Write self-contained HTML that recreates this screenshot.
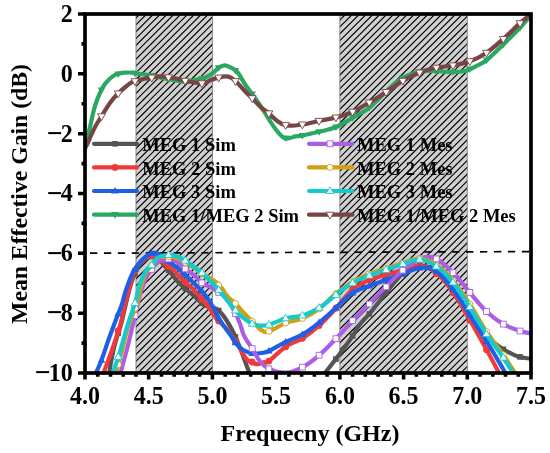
<!DOCTYPE html>
<html><head><meta charset="utf-8"><style>
html,body{margin:0;padding:0;background:#fff;}
body{width:550px;height:453px;overflow:hidden;}
svg{display:block;}
</style></head><body>
<svg width="550" height="453" viewBox="0 0 550 453">
<defs>
<clipPath id="pc"><rect x="85" y="14" width="446" height="359"/></clipPath>
</defs>
<rect width="550" height="453" fill="#fff"/>
<clipPath id="hc1"><rect x="135.97" y="14" width="76.46" height="359"/></clipPath><rect x="135.97" y="14" width="76.46" height="359" fill="#d0d0d0"/><path clip-path="url(#hc1)" d="M137.01,10.00L-232.99,380.00M143.87,10.00L-226.13,380.00M150.74,10.00L-219.26,380.00M157.61,10.00L-212.39,380.00M164.48,10.00L-205.52,380.00M171.34,10.00L-198.66,380.00M178.21,10.00L-191.79,380.00M185.08,10.00L-184.92,380.00M191.94,10.00L-178.06,380.00M198.81,10.00L-171.19,380.00M205.68,10.00L-164.32,380.00M212.54,10.00L-157.46,380.00M219.41,10.00L-150.59,380.00M226.28,10.00L-143.72,380.00M233.15,10.00L-136.85,380.00M240.01,10.00L-129.99,380.00M246.88,10.00L-123.12,380.00M253.75,10.00L-116.25,380.00M260.61,10.00L-109.39,380.00M267.48,10.00L-102.52,380.00M274.35,10.00L-95.65,380.00M281.21,10.00L-88.79,380.00M288.08,10.00L-81.92,380.00M294.95,10.00L-75.05,380.00M301.81,10.00L-68.19,380.00M308.68,10.00L-61.32,380.00M315.55,10.00L-54.45,380.00M322.42,10.00L-47.58,380.00M329.28,10.00L-40.72,380.00M336.15,10.00L-33.85,380.00M343.02,10.00L-26.98,380.00M349.88,10.00L-20.12,380.00M356.75,10.00L-13.25,380.00M363.62,10.00L-6.38,380.00M370.49,10.00L0.49,380.00M377.35,10.00L7.35,380.00M384.22,10.00L14.22,380.00M391.09,10.00L21.09,380.00M397.95,10.00L27.95,380.00M404.82,10.00L34.82,380.00M411.69,10.00L41.69,380.00M418.55,10.00L48.55,380.00M425.42,10.00L55.42,380.00M432.29,10.00L62.29,380.00M439.16,10.00L69.16,380.00M446.02,10.00L76.02,380.00M452.89,10.00L82.89,380.00M459.76,10.00L89.76,380.00M466.62,10.00L96.62,380.00M473.49,10.00L103.49,380.00M480.36,10.00L110.36,380.00M487.22,10.00L117.22,380.00M494.09,10.00L124.09,380.00M500.96,10.00L130.96,380.00M507.82,10.00L137.82,380.00M514.69,10.00L144.69,380.00M521.56,10.00L151.56,380.00M528.43,10.00L158.43,380.00M535.29,10.00L165.29,380.00M542.16,10.00L172.16,380.00M549.03,10.00L179.03,380.00M555.89,10.00L185.89,380.00M562.76,10.00L192.76,380.00M569.63,10.00L199.63,380.00M576.50,10.00L206.50,380.00" stroke="#000" stroke-width="1.15" fill="none"/><rect x="135.97" y="14" width="76.46" height="359" fill="none" stroke="#7a7a7a" stroke-width="0.8"/>
<clipPath id="hc2"><rect x="339.86" y="14" width="127.43" height="359"/></clipPath><rect x="339.86" y="14" width="127.43" height="359" fill="#d0d0d0"/><path clip-path="url(#hc2)" d="M343.02,10.00L-26.98,380.00M349.88,10.00L-20.12,380.00M356.75,10.00L-13.25,380.00M363.62,10.00L-6.38,380.00M370.49,10.00L0.49,380.00M377.35,10.00L7.35,380.00M384.22,10.00L14.22,380.00M391.09,10.00L21.09,380.00M397.95,10.00L27.95,380.00M404.82,10.00L34.82,380.00M411.69,10.00L41.69,380.00M418.55,10.00L48.55,380.00M425.42,10.00L55.42,380.00M432.29,10.00L62.29,380.00M439.16,10.00L69.16,380.00M446.02,10.00L76.02,380.00M452.89,10.00L82.89,380.00M459.76,10.00L89.76,380.00M466.62,10.00L96.62,380.00M473.49,10.00L103.49,380.00M480.36,10.00L110.36,380.00M487.22,10.00L117.22,380.00M494.09,10.00L124.09,380.00M500.96,10.00L130.96,380.00M507.82,10.00L137.82,380.00M514.69,10.00L144.69,380.00M521.56,10.00L151.56,380.00M528.43,10.00L158.43,380.00M535.29,10.00L165.29,380.00M542.16,10.00L172.16,380.00M549.03,10.00L179.03,380.00M555.89,10.00L185.89,380.00M562.76,10.00L192.76,380.00M569.63,10.00L199.63,380.00M576.50,10.00L206.50,380.00M583.36,10.00L213.36,380.00M590.23,10.00L220.23,380.00M597.10,10.00L227.10,380.00M603.96,10.00L233.96,380.00M610.83,10.00L240.83,380.00M617.70,10.00L247.70,380.00M624.56,10.00L254.56,380.00M631.43,10.00L261.43,380.00M638.30,10.00L268.30,380.00M645.16,10.00L275.16,380.00M652.03,10.00L282.03,380.00M658.90,10.00L288.90,380.00M665.77,10.00L295.77,380.00M672.63,10.00L302.63,380.00M679.50,10.00L309.50,380.00M686.37,10.00L316.37,380.00M693.23,10.00L323.23,380.00M700.10,10.00L330.10,380.00M706.97,10.00L336.97,380.00M713.83,10.00L343.83,380.00M720.70,10.00L350.70,380.00M727.57,10.00L357.57,380.00M734.44,10.00L364.44,380.00M741.30,10.00L371.30,380.00M748.17,10.00L378.17,380.00M755.04,10.00L385.04,380.00M761.90,10.00L391.90,380.00M768.77,10.00L398.77,380.00M775.64,10.00L405.64,380.00M782.50,10.00L412.50,380.00M789.37,10.00L419.37,380.00M796.24,10.00L426.24,380.00M803.11,10.00L433.11,380.00M809.97,10.00L439.97,380.00M816.84,10.00L446.84,380.00M823.71,10.00L453.71,380.00M830.57,10.00L460.57,380.00" stroke="#000" stroke-width="1.15" fill="none"/><rect x="339.86" y="14" width="127.43" height="359" fill="none" stroke="#7a7a7a" stroke-width="0.8"/>
<line x1="90" y1="253.2" x2="529" y2="251.6" stroke="#000" stroke-width="1.7" stroke-dasharray="7.3 6.63"/>
<g clip-path="url(#pc)">
<path d="M109.3,373.0 C109.6,371.2 110.3,365.8 111.0,362.0 C111.7,358.2 112.5,354.3 113.5,350.0 C114.5,345.7 116.0,340.5 117.3,336.0 C118.6,331.5 120.1,328.0 121.5,322.8 C122.9,317.6 124.0,311.5 125.6,305.0 C127.2,298.5 129.3,289.7 131.0,284.0 C132.7,278.3 134.2,274.7 136.0,271.0 C137.8,267.3 139.8,264.3 142.0,262.0 C144.2,259.7 146.8,258.0 149.0,257.0 C151.2,256.0 153.2,255.8 155.0,256.0 C156.8,256.2 158.2,257.2 159.5,258.5 C160.8,259.8 160.8,261.2 162.6,263.5 C164.4,265.8 167.6,269.2 170.4,272.5 C173.2,275.8 176.4,280.1 179.2,283.0 C181.9,285.9 184.3,287.8 186.9,290.0 C189.5,292.2 192.4,294.6 194.6,296.5 C196.8,298.4 198.3,300.0 200.0,301.5 C201.7,303.0 203.1,304.6 205.0,305.5 C206.9,306.4 209.0,306.1 211.3,307.0 C213.6,307.9 216.3,308.4 218.8,310.6 C221.3,312.8 223.8,316.2 226.3,320.0 C228.8,323.8 231.6,328.8 233.8,333.2 C236.0,337.6 237.5,341.6 239.4,346.3 C241.3,351.0 243.3,356.9 245.0,361.3 C246.7,365.8 248.8,371.1 249.5,373.0" fill="none" stroke="#545454" stroke-width="4.2" stroke-linejoin="round" stroke-linecap="round"/>
<rect x="115.4" y="330.2" width="5.6" height="5.6" fill="#545454"/>
<rect x="132.2" y="270.9" width="5.6" height="5.6" fill="#545454"/>
<rect x="148.9" y="253.7" width="5.6" height="5.6" fill="#545454"/>
<rect x="165.7" y="267.5" width="5.6" height="5.6" fill="#545454"/>
<rect x="182.4" y="285.7" width="5.6" height="5.6" fill="#545454"/>
<rect x="199.1" y="300.3" width="5.6" height="5.6" fill="#545454"/>
<rect x="215.9" y="307.7" width="5.6" height="5.6" fill="#545454"/>
<rect x="232.6" y="334.2" width="5.6" height="5.6" fill="#545454"/>

<path d="M325.0,373.0 C327.0,370.4 332.5,363.6 337.0,357.6 C341.5,351.7 348.0,342.8 351.8,337.3 C355.6,331.8 356.8,328.4 359.8,324.4 C362.8,320.4 366.7,317.0 369.7,313.5 C372.7,310.0 374.6,307.4 377.6,303.6 C380.6,299.8 384.3,294.9 387.6,290.8 C390.9,286.7 394.5,282.0 397.5,278.8 C400.5,275.6 401.6,273.7 405.4,271.5 C409.1,269.3 414.9,265.6 420.0,265.5 C425.1,265.4 430.7,266.9 436.0,271.0 C441.3,275.1 446.7,282.8 452.0,290.0 C457.3,297.2 463.3,307.2 468.0,314.0 C472.7,320.8 476.1,326.5 480.0,331.0 C483.9,335.5 487.8,337.8 491.7,340.9 C495.6,343.9 498.9,346.7 503.3,349.3 C507.7,351.9 513.4,355.0 518.0,356.6 C522.6,358.2 528.8,358.4 531.0,358.7" fill="none" stroke="#545454" stroke-width="4.2" stroke-linejoin="round" stroke-linecap="round"/>
<rect x="333.1" y="356.3" width="5.6" height="5.6" fill="#545454"/>
<rect x="349.8" y="333.2" width="5.6" height="5.6" fill="#545454"/>
<rect x="366.5" y="311.1" width="5.6" height="5.6" fill="#545454"/>
<rect x="383.3" y="289.9" width="5.6" height="5.6" fill="#545454"/>
<rect x="400.0" y="271.1" width="5.6" height="5.6" fill="#545454"/>
<rect x="416.8" y="262.9" width="5.6" height="5.6" fill="#545454"/>
<rect x="433.5" y="268.6" width="5.6" height="5.6" fill="#545454"/>
<rect x="450.2" y="288.8" width="5.6" height="5.6" fill="#545454"/>
<rect x="467.0" y="313.7" width="5.6" height="5.6" fill="#545454"/>
<rect x="483.7" y="333.7" width="5.6" height="5.6" fill="#545454"/>
<rect x="500.5" y="346.5" width="5.6" height="5.6" fill="#545454"/>
<rect x="517.2" y="354.1" width="5.6" height="5.6" fill="#545454"/>

<path d="M103.5,373.0 C104.9,369.2 109.1,358.4 112.0,350.0 C114.9,341.6 118.7,330.3 120.8,322.8 C122.9,315.3 123.4,310.5 124.8,305.0 C126.2,299.5 127.6,295.2 129.0,290.0 C130.4,284.8 131.7,278.2 133.2,274.0 C134.7,269.8 136.0,267.6 138.0,265.0 C140.0,262.4 142.7,260.1 145.0,258.5 C147.3,256.9 149.8,255.8 152.0,255.5 C154.2,255.2 155.8,255.2 158.0,256.5 C160.2,257.8 162.3,261.2 164.9,263.5 C167.5,265.8 170.6,267.7 173.7,270.5 C176.8,273.3 180.5,277.5 183.6,280.5 C186.7,283.5 189.7,285.8 192.4,288.5 C195.2,291.2 197.2,293.7 200.1,297.0 C203.0,300.3 206.9,304.9 209.6,308.5 C212.3,312.1 213.3,315.0 216.2,318.4 C219.1,321.8 223.2,324.7 226.8,329.0 C230.4,333.3 234.2,339.3 237.5,344.4 C240.8,349.5 243.8,356.1 246.9,359.4 C250.0,362.7 253.5,363.6 256.3,364.1 C259.1,364.6 261.8,362.6 263.8,362.2 C265.8,361.8 264.8,364.0 268.5,361.4 C272.2,358.8 280.5,350.2 286.3,346.3 C292.1,342.4 297.6,341.5 303.2,337.9 C308.8,334.3 314.5,329.8 320.1,324.7 C325.7,319.6 331.6,312.9 337.0,307.0 C342.4,301.1 347.4,293.5 352.8,289.0 C358.2,284.5 364.1,282.2 369.7,279.8 C375.3,277.4 380.6,276.5 386.2,274.8 C391.8,273.1 398.2,271.4 403.5,269.9 C408.8,268.4 412.9,265.7 417.9,265.9 C422.9,266.1 428.4,267.4 433.7,271.0 C439.0,274.6 444.2,280.2 449.6,287.3 C455.0,294.4 459.9,303.2 466.0,313.5 C472.1,323.8 480.8,339.4 486.3,349.3 C491.8,359.2 496.9,369.1 499.0,373.0" fill="none" stroke="#f03a3a" stroke-width="4.2" stroke-linejoin="round" stroke-linecap="round"/>
<circle cx="118.2" cy="330.7" r="3.4" fill="#f03a3a"/>
<circle cx="135.0" cy="270.7" r="3.4" fill="#f03a3a"/>
<circle cx="151.7" cy="255.6" r="3.4" fill="#f03a3a"/>
<circle cx="168.5" cy="266.3" r="3.4" fill="#f03a3a"/>
<circle cx="185.2" cy="282.0" r="3.4" fill="#f03a3a"/>
<circle cx="201.9" cy="299.2" r="3.4" fill="#f03a3a"/>
<circle cx="218.7" cy="320.9" r="3.4" fill="#f03a3a"/>
<circle cx="235.4" cy="341.4" r="3.4" fill="#f03a3a"/>
<circle cx="252.2" cy="362.0" r="3.4" fill="#f03a3a"/>
<circle cx="268.9" cy="361.1" r="3.4" fill="#f03a3a"/>
<circle cx="285.6" cy="346.9" r="3.4" fill="#f03a3a"/>
<circle cx="302.4" cy="338.3" r="3.4" fill="#f03a3a"/>
<circle cx="319.1" cy="325.5" r="3.4" fill="#f03a3a"/>
<circle cx="335.9" cy="308.2" r="3.4" fill="#f03a3a"/>
<circle cx="352.6" cy="289.2" r="3.4" fill="#f03a3a"/>
<circle cx="369.3" cy="280.0" r="3.4" fill="#f03a3a"/>
<circle cx="386.1" cy="274.8" r="3.4" fill="#f03a3a"/>
<circle cx="402.8" cy="270.1" r="3.4" fill="#f03a3a"/>
<circle cx="419.6" cy="266.4" r="3.4" fill="#f03a3a"/>
<circle cx="436.3" cy="273.7" r="3.4" fill="#f03a3a"/>
<circle cx="453.0" cy="292.8" r="3.4" fill="#f03a3a"/>
<circle cx="469.8" cy="320.2" r="3.4" fill="#f03a3a"/>
<circle cx="486.5" cy="349.7" r="3.4" fill="#f03a3a"/>

<path d="M96.0,373.0 C96.9,370.8 99.3,365.9 101.6,359.9 C103.8,353.9 106.8,344.5 109.5,337.0 C112.2,329.5 115.7,320.3 117.7,315.0 C119.7,309.7 120.4,308.9 121.7,305.0 C123.0,301.1 123.8,296.4 125.5,291.4 C127.2,286.4 129.7,279.4 131.6,275.1 C133.5,270.9 134.9,268.7 137.0,265.9 C139.1,263.1 141.6,260.2 144.0,258.1 C146.4,256.0 149.4,254.3 151.6,253.5 C153.8,252.7 155.1,252.8 157.0,253.3 C158.9,253.8 161.3,255.3 163.0,256.5 C164.7,257.7 164.8,258.8 167.1,260.6 C169.4,262.4 173.7,264.9 177.0,267.5 C180.3,270.1 183.8,273.6 186.9,276.5 C190.0,279.4 193.5,282.8 195.7,285.0 C197.9,287.2 198.4,287.4 200.3,289.5 C202.2,291.6 204.7,294.4 206.9,297.5 C209.1,300.6 211.7,304.6 213.5,307.8 C215.3,311.1 216.2,313.9 218.0,317.0 C219.8,320.1 222.0,323.3 224.1,326.4 C226.2,329.5 228.8,332.8 230.8,335.6 C232.8,338.5 233.9,341.1 236.0,343.5 C238.1,345.9 240.4,348.4 243.2,350.0 C245.9,351.6 249.4,352.9 252.5,353.4 C255.6,353.9 259.1,353.3 261.9,352.9 C264.6,352.5 264.9,352.9 269.0,351.0 C273.1,349.1 280.6,344.4 286.3,341.6 C292.0,338.8 297.6,337.4 303.2,334.1 C308.8,330.8 314.5,326.4 320.1,321.9 C325.7,317.4 331.6,311.8 337.0,306.9 C342.4,302.0 347.4,296.2 352.8,292.7 C358.2,289.2 364.1,287.8 369.7,285.7 C375.3,283.6 380.6,281.8 386.2,279.8 C391.8,277.8 397.9,275.8 403.5,273.8 C409.1,271.8 414.5,268.4 419.9,267.9 C425.3,267.4 430.2,267.3 435.7,270.8 C441.1,274.3 447.3,281.9 452.6,288.7 C457.9,295.5 462.3,303.5 467.5,311.5 C472.7,319.5 479.2,329.7 483.6,336.7 C488.0,343.7 490.4,347.4 494.0,353.5 C497.6,359.6 503.6,369.8 505.5,373.0" fill="none" stroke="#1f5fe6" stroke-width="4.2" stroke-linejoin="round" stroke-linecap="round"/>
<path d="M101.5,356.1L105.3,362.7L97.7,362.7Z" fill="#1f5fe6"/>
<path d="M118.2,309.7L122.0,316.3L114.4,316.3Z" fill="#1f5fe6"/>
<path d="M135.0,265.3L138.8,271.9L131.2,271.9Z" fill="#1f5fe6"/>
<path d="M151.7,249.5L155.5,256.1L147.9,256.1Z" fill="#1f5fe6"/>
<path d="M168.5,257.5L172.3,264.1L164.7,264.1Z" fill="#1f5fe6"/>
<path d="M185.2,271.0L189.0,277.6L181.4,277.6Z" fill="#1f5fe6"/>
<path d="M201.9,287.5L205.7,294.1L198.1,294.1Z" fill="#1f5fe6"/>
<path d="M218.7,314.0L222.5,320.6L214.9,320.6Z" fill="#1f5fe6"/>
<path d="M235.4,338.6L239.2,345.2L231.6,345.2Z" fill="#1f5fe6"/>
<path d="M252.2,349.3L256.0,355.9L248.4,355.9Z" fill="#1f5fe6"/>
<path d="M268.9,347.0L272.7,353.6L265.1,353.6Z" fill="#1f5fe6"/>
<path d="M285.6,338.0L289.4,344.6L281.8,344.6Z" fill="#1f5fe6"/>
<path d="M302.4,330.5L306.2,337.1L298.6,337.1Z" fill="#1f5fe6"/>
<path d="M319.1,318.6L322.9,325.2L315.3,325.2Z" fill="#1f5fe6"/>
<path d="M335.9,303.9L339.7,310.5L332.1,310.5Z" fill="#1f5fe6"/>
<path d="M352.6,288.9L356.4,295.5L348.8,295.5Z" fill="#1f5fe6"/>
<path d="M369.3,281.8L373.1,288.4L365.5,288.4Z" fill="#1f5fe6"/>
<path d="M386.1,275.8L389.9,282.4L382.3,282.4Z" fill="#1f5fe6"/>
<path d="M402.8,270.0L406.6,276.6L399.0,276.6Z" fill="#1f5fe6"/>
<path d="M419.6,264.0L423.4,270.6L415.8,270.6Z" fill="#1f5fe6"/>
<path d="M436.3,267.4L440.1,274.0L432.5,274.0Z" fill="#1f5fe6"/>
<path d="M453.0,285.4L456.8,292.0L449.2,292.0Z" fill="#1f5fe6"/>
<path d="M469.8,311.1L473.6,317.7L466.0,317.7Z" fill="#1f5fe6"/>
<path d="M486.5,337.4L490.3,344.0L482.7,344.0Z" fill="#1f5fe6"/>

<path d="M85.0,142.5 C85.2,141.9 86.0,140.2 86.5,139.0 C87.0,137.8 87.5,136.7 88.0,135.0 C88.5,133.3 88.9,131.5 89.5,129.0 C90.1,126.5 90.8,123.2 91.5,120.0 C92.2,116.8 93.1,113.1 93.9,110.0 C94.7,106.9 95.5,104.3 96.5,101.5 C97.5,98.7 98.8,95.7 99.9,93.2 C101.0,90.7 101.8,88.8 103.2,86.6 C104.6,84.4 106.4,82.0 108.5,80.0 C110.6,78.0 113.2,75.6 116.0,74.4 C118.8,73.2 122.2,72.9 125.0,72.6 C127.8,72.3 130.7,72.6 133.0,72.8 C135.3,73.0 135.6,73.5 138.6,73.9 C141.6,74.3 145.9,74.5 151.0,75.4 C156.1,76.3 163.2,78.2 169.0,79.3 C174.8,80.4 180.9,81.8 185.5,81.8 C190.1,81.8 193.4,80.1 196.4,79.5 C199.4,78.9 200.9,79.3 203.6,78.3 C206.3,77.3 210.3,75.0 212.7,73.3 C215.1,71.6 216.2,69.3 218.2,68.0 C220.2,66.7 222.1,65.2 224.5,65.3 C226.9,65.4 230.4,67.2 232.7,68.5 C235.0,69.8 236.1,70.2 238.2,73.0 C240.3,75.8 242.9,81.2 245.5,85.0 C248.1,88.8 250.4,91.5 253.6,96.0 C256.8,100.5 261.2,106.9 264.5,112.0 C267.8,117.1 270.3,122.0 273.6,126.4 C276.9,130.8 280.9,136.5 284.5,138.2 C288.1,139.9 292.5,136.8 295.5,136.4 C298.5,136.0 298.8,136.3 302.7,135.5 C306.6,134.7 313.5,133.2 319.0,131.8 C324.5,130.4 330.0,129.6 335.5,127.3 C341.0,125.0 346.2,121.5 351.8,118.2 C357.4,115.0 363.2,112.5 369.1,107.8 C375.0,103.1 382.2,95.0 387.3,90.3 C392.4,85.5 395.1,82.3 400.0,79.3 C404.9,76.3 411.2,73.6 416.4,72.2 C421.5,70.8 424.8,71.0 430.9,71.0 C437.0,71.0 447.0,72.0 452.9,72.0 C458.8,72.0 462.2,71.8 466.3,70.7 C470.4,69.6 474.2,67.2 477.7,65.4 C481.2,63.6 483.2,63.0 487.3,59.6 C491.4,56.2 497.1,50.5 502.5,45.3 C507.9,40.0 515.0,33.1 519.7,28.1 C524.5,23.1 529.1,17.2 531.0,15.0" fill="none" stroke="#2aa862" stroke-width="4.2" stroke-linejoin="round" stroke-linecap="round"/>
<path d="M101.5,94.0L105.3,87.4L97.7,87.4Z" fill="#2aa862"/>
<path d="M118.2,78.0L122.0,71.4L114.4,71.4Z" fill="#2aa862"/>
<path d="M135.0,77.2L138.8,70.6L131.2,70.6Z" fill="#2aa862"/>
<path d="M151.7,79.6L155.5,73.0L147.9,73.0Z" fill="#2aa862"/>
<path d="M168.5,83.2L172.3,76.6L164.7,76.6Z" fill="#2aa862"/>
<path d="M185.2,85.8L189.0,79.2L181.4,79.2Z" fill="#2aa862"/>
<path d="M201.9,82.6L205.7,76.0L198.1,76.0Z" fill="#2aa862"/>
<path d="M218.7,71.8L222.5,65.2L214.9,65.2Z" fill="#2aa862"/>
<path d="M235.4,74.7L239.2,68.1L231.6,68.1Z" fill="#2aa862"/>
<path d="M252.2,98.0L256.0,91.4L248.4,91.4Z" fill="#2aa862"/>
<path d="M268.9,123.0L272.7,116.4L265.1,116.4Z" fill="#2aa862"/>
<path d="M285.6,142.0L289.4,135.4L281.8,135.4Z" fill="#2aa862"/>
<path d="M302.4,139.5L306.2,132.9L298.6,132.9Z" fill="#2aa862"/>
<path d="M319.1,135.8L322.9,129.2L315.3,129.2Z" fill="#2aa862"/>
<path d="M335.9,131.1L339.7,124.5L332.1,124.5Z" fill="#2aa862"/>
<path d="M352.6,121.7L356.4,115.1L348.8,115.1Z" fill="#2aa862"/>
<path d="M369.3,111.6L373.1,105.0L365.5,105.0Z" fill="#2aa862"/>
<path d="M386.1,95.5L389.9,88.9L382.3,88.9Z" fill="#2aa862"/>
<path d="M402.8,82.1L406.6,75.5L399.0,75.5Z" fill="#2aa862"/>
<path d="M419.6,75.9L423.4,69.3L415.8,69.3Z" fill="#2aa862"/>
<path d="M436.3,75.2L440.1,68.6L432.5,68.6Z" fill="#2aa862"/>
<path d="M453.0,76.0L456.8,69.4L449.2,69.4Z" fill="#2aa862"/>
<path d="M469.8,73.1L473.6,66.5L466.0,66.5Z" fill="#2aa862"/>
<path d="M486.5,64.1L490.3,57.5L482.7,57.5Z" fill="#2aa862"/>
<path d="M503.3,48.5L507.1,41.9L499.5,41.9Z" fill="#2aa862"/>
<path d="M520.0,31.8L523.8,25.2L516.2,25.2Z" fill="#2aa862"/>

<path d="M120.5,373.0 C121.8,368.3 125.3,355.6 128.0,345.0 C130.7,334.4 134.2,318.5 136.4,309.6 C138.6,300.7 139.1,297.0 140.9,291.4 C142.7,285.8 144.8,280.3 147.1,275.9 C149.4,271.5 152.7,267.6 154.8,265.1 C157.0,262.6 157.7,262.0 160.0,261.0 C162.3,260.0 165.6,258.9 168.4,259.0 C171.2,259.1 174.2,260.1 177.0,261.8 C179.8,263.5 182.4,266.7 185.3,269.0 C188.2,271.3 191.8,273.2 194.6,275.6 C197.4,278.0 199.8,281.5 202.3,283.3 C204.8,285.1 207.3,285.4 209.6,286.6 C211.9,287.8 213.5,288.8 216.2,290.6 C218.8,292.4 222.4,293.7 225.5,297.2 C228.6,300.7 232.3,307.4 234.7,311.8 C237.1,316.2 238.4,319.7 240.0,323.7 C241.6,327.7 241.9,331.4 244.0,335.6 C246.1,339.8 249.8,344.8 252.5,349.1 C255.2,353.4 257.2,358.0 260.0,361.3 C262.8,364.6 264.6,367.0 269.0,368.9 C273.4,370.8 280.7,372.9 286.3,372.6 C291.9,372.3 297.2,370.0 302.8,367.0 C308.4,364.0 314.1,359.6 319.7,354.8 C325.2,350.1 330.6,344.2 336.1,338.5 C341.6,332.8 347.2,326.3 352.8,320.5 C358.4,314.7 364.1,309.2 369.7,303.6 C375.3,298.0 380.6,292.3 386.2,286.7 C391.8,281.1 397.5,274.5 403.1,269.9 C408.7,265.3 416.1,261.1 419.9,259.0 C423.7,256.9 423.1,257.0 425.8,257.0 C428.5,257.0 431.7,256.3 436.3,258.9 C440.9,261.5 447.7,267.3 453.2,272.8 C458.7,278.3 463.9,285.7 469.5,292.1 C475.1,298.6 480.9,306.2 486.5,311.5 C492.1,316.8 497.7,320.9 503.3,324.1 C508.9,327.4 515.5,329.4 520.1,331.0 C524.7,332.6 529.2,333.1 531.0,333.5" fill="none" stroke="#aa5ee6" stroke-width="4.2" stroke-linejoin="round" stroke-linecap="round"/>
<rect x="132.1" y="312.7" width="5.8" height="5.8" fill="#fff" stroke="#aa5ee6" stroke-width="0.9"/>
<rect x="148.8" y="266.5" width="5.8" height="5.8" fill="#fff" stroke="#aa5ee6" stroke-width="0.9"/>
<rect x="165.6" y="256.1" width="5.8" height="5.8" fill="#fff" stroke="#aa5ee6" stroke-width="0.9"/>
<rect x="182.3" y="266.0" width="5.8" height="5.8" fill="#fff" stroke="#aa5ee6" stroke-width="0.9"/>
<rect x="199.0" y="280.0" width="5.8" height="5.8" fill="#fff" stroke="#aa5ee6" stroke-width="0.9"/>
<rect x="215.8" y="289.5" width="5.8" height="5.8" fill="#fff" stroke="#aa5ee6" stroke-width="0.9"/>
<rect x="232.5" y="310.5" width="5.8" height="5.8" fill="#fff" stroke="#aa5ee6" stroke-width="0.9"/>
<rect x="249.3" y="345.7" width="5.8" height="5.8" fill="#fff" stroke="#aa5ee6" stroke-width="0.9"/>
<rect x="266.0" y="365.9" width="5.8" height="5.8" fill="#fff" stroke="#aa5ee6" stroke-width="0.9"/>
<rect x="299.5" y="364.2" width="5.8" height="5.8" fill="#fff" stroke="#aa5ee6" stroke-width="0.9"/>
<rect x="316.2" y="352.3" width="5.8" height="5.8" fill="#fff" stroke="#aa5ee6" stroke-width="0.9"/>
<rect x="333.0" y="335.8" width="5.8" height="5.8" fill="#fff" stroke="#aa5ee6" stroke-width="0.9"/>
<rect x="349.7" y="317.8" width="5.8" height="5.8" fill="#fff" stroke="#aa5ee6" stroke-width="0.9"/>
<rect x="366.4" y="301.1" width="5.8" height="5.8" fill="#fff" stroke="#aa5ee6" stroke-width="0.9"/>
<rect x="383.2" y="283.9" width="5.8" height="5.8" fill="#fff" stroke="#aa5ee6" stroke-width="0.9"/>
<rect x="399.9" y="267.3" width="5.8" height="5.8" fill="#fff" stroke="#aa5ee6" stroke-width="0.9"/>
<rect x="416.7" y="256.3" width="5.8" height="5.8" fill="#fff" stroke="#aa5ee6" stroke-width="0.9"/>
<rect x="433.4" y="256.0" width="5.8" height="5.8" fill="#fff" stroke="#aa5ee6" stroke-width="0.9"/>
<rect x="450.1" y="269.8" width="5.8" height="5.8" fill="#fff" stroke="#aa5ee6" stroke-width="0.9"/>
<rect x="466.9" y="289.5" width="5.8" height="5.8" fill="#fff" stroke="#aa5ee6" stroke-width="0.9"/>
<rect x="483.6" y="308.6" width="5.8" height="5.8" fill="#fff" stroke="#aa5ee6" stroke-width="0.9"/>
<rect x="500.4" y="321.2" width="5.8" height="5.8" fill="#fff" stroke="#aa5ee6" stroke-width="0.9"/>
<rect x="517.1" y="328.1" width="5.8" height="5.8" fill="#fff" stroke="#aa5ee6" stroke-width="0.9"/>

<path d="M116.0,373.0 C116.9,369.5 119.7,359.2 121.6,352.0 C123.5,344.8 125.4,336.2 127.2,330.0 C129.0,323.8 130.9,319.8 132.6,315.0 C134.3,310.2 135.9,306.3 137.5,301.0 C139.1,295.7 140.4,288.0 142.0,283.0 C143.6,278.0 145.2,274.2 147.0,271.0 C148.8,267.8 151.0,266.2 153.0,264.0 C155.0,261.8 156.5,258.8 159.0,257.5 C161.5,256.2 165.0,256.4 168.0,256.5 C171.0,256.6 174.1,257.0 177.0,258.0 C179.9,259.0 182.6,260.8 185.5,262.5 C188.4,264.2 191.8,266.2 194.6,268.0 C197.3,269.8 198.6,271.3 202.0,273.5 C205.4,275.7 211.7,278.9 214.9,281.3 C218.2,283.7 219.3,285.2 221.5,287.9 C223.7,290.5 225.8,294.6 228.1,297.2 C230.4,299.8 233.1,301.2 235.5,303.6 C237.9,306.0 240.2,309.1 242.7,311.8 C245.2,314.5 247.4,316.6 250.6,319.7 C253.8,322.8 258.8,328.5 261.9,330.4 C265.0,332.3 265.0,332.6 269.0,331.3 C273.0,330.1 280.3,325.1 285.9,322.9 C291.5,320.7 297.2,320.5 302.8,318.2 C308.4,315.9 313.6,312.9 319.2,308.8 C324.8,304.7 330.5,298.0 336.1,293.5 C341.7,289.0 347.2,285.1 352.8,281.8 C358.4,278.5 364.1,276.0 369.7,273.8 C375.3,271.6 380.6,270.3 386.2,268.5 C391.8,266.7 397.6,264.7 403.1,263.0 C408.6,261.3 413.9,258.2 419.3,258.5 C424.7,258.8 430.1,260.9 435.7,264.5 C441.2,268.1 447.0,273.4 452.6,280.0 C458.2,286.6 464.0,295.5 469.6,304.0 C475.2,312.5 480.5,322.5 486.1,331.0 C491.7,339.5 498.5,348.0 503.3,355.0 C508.1,362.0 513.0,370.0 515.0,373.0" fill="none" stroke="#d39f12" stroke-width="4.2" stroke-linejoin="round" stroke-linecap="round"/>
<circle cx="118.2" cy="364.6" r="3.1" fill="#fff" stroke="#d39f12" stroke-width="0.9"/>
<circle cx="135.0" cy="308.2" r="3.1" fill="#fff" stroke="#d39f12" stroke-width="0.9"/>
<circle cx="151.7" cy="265.5" r="3.1" fill="#fff" stroke="#d39f12" stroke-width="0.9"/>
<circle cx="168.5" cy="256.6" r="3.1" fill="#fff" stroke="#d39f12" stroke-width="0.9"/>
<circle cx="185.2" cy="262.3" r="3.1" fill="#fff" stroke="#d39f12" stroke-width="0.9"/>
<circle cx="201.9" cy="273.5" r="3.1" fill="#fff" stroke="#d39f12" stroke-width="0.9"/>
<circle cx="218.7" cy="285.1" r="3.1" fill="#fff" stroke="#d39f12" stroke-width="0.9"/>
<circle cx="235.4" cy="303.5" r="3.1" fill="#fff" stroke="#d39f12" stroke-width="0.9"/>
<circle cx="252.2" cy="321.2" r="3.1" fill="#fff" stroke="#d39f12" stroke-width="0.9"/>
<circle cx="268.9" cy="331.3" r="3.1" fill="#fff" stroke="#d39f12" stroke-width="0.9"/>
<circle cx="285.6" cy="323.0" r="3.1" fill="#fff" stroke="#d39f12" stroke-width="0.9"/>
<circle cx="302.4" cy="318.3" r="3.1" fill="#fff" stroke="#d39f12" stroke-width="0.9"/>
<circle cx="319.1" cy="308.8" r="3.1" fill="#fff" stroke="#d39f12" stroke-width="0.9"/>
<circle cx="335.9" cy="293.7" r="3.1" fill="#fff" stroke="#d39f12" stroke-width="0.9"/>
<circle cx="352.6" cy="281.9" r="3.1" fill="#fff" stroke="#d39f12" stroke-width="0.9"/>
<circle cx="369.3" cy="274.0" r="3.1" fill="#fff" stroke="#d39f12" stroke-width="0.9"/>
<circle cx="386.1" cy="268.5" r="3.1" fill="#fff" stroke="#d39f12" stroke-width="0.9"/>
<circle cx="402.8" cy="263.1" r="3.1" fill="#fff" stroke="#d39f12" stroke-width="0.9"/>
<circle cx="419.6" cy="258.6" r="3.1" fill="#fff" stroke="#d39f12" stroke-width="0.9"/>
<circle cx="436.3" cy="265.1" r="3.1" fill="#fff" stroke="#d39f12" stroke-width="0.9"/>
<circle cx="453.0" cy="280.6" r="3.1" fill="#fff" stroke="#d39f12" stroke-width="0.9"/>
<circle cx="469.8" cy="304.3" r="3.1" fill="#fff" stroke="#d39f12" stroke-width="0.9"/>
<circle cx="486.5" cy="331.6" r="3.1" fill="#fff" stroke="#d39f12" stroke-width="0.9"/>
<circle cx="503.3" cy="354.9" r="3.1" fill="#fff" stroke="#d39f12" stroke-width="0.9"/>

<path d="M112.8,373.0 C113.9,369.6 117.4,359.9 119.6,352.9 C121.8,345.9 123.9,337.3 125.8,331.0 C127.7,324.7 129.4,319.9 131.0,315.0 C132.6,310.1 134.0,306.6 135.5,301.4 C137.0,296.2 138.4,288.6 140.1,283.6 C141.8,278.6 143.6,274.4 145.5,271.3 C147.4,268.2 149.6,267.6 151.7,265.3 C153.8,263.0 155.4,259.1 158.2,257.4 C161.0,255.7 165.3,255.2 168.4,255.0 C171.5,254.8 174.1,255.3 177.0,256.3 C179.9,257.3 182.7,259.0 185.6,260.8 C188.5,262.6 191.9,265.3 194.6,267.3 C197.3,269.3 199.3,270.6 201.9,272.8 C204.5,275.0 207.2,277.7 210.0,280.5 C212.8,283.3 215.9,286.6 218.7,289.8 C221.5,293.0 224.1,296.5 226.8,299.9 C229.6,303.3 232.3,307.1 235.2,310.2 C238.1,313.3 241.2,316.1 244.0,318.4 C246.8,320.6 249.5,322.5 252.2,323.7 C254.9,324.9 257.2,325.4 260.0,325.6 C262.8,325.8 264.7,325.9 269.0,324.7 C273.3,323.5 280.3,319.8 285.9,318.2 C291.5,316.6 297.2,317.1 302.8,315.4 C308.4,313.7 313.6,311.2 319.2,307.8 C324.8,304.4 330.5,298.9 336.1,294.7 C341.7,290.5 347.2,286.0 352.8,282.8 C358.4,279.6 364.1,277.5 369.7,275.4 C375.3,273.2 380.6,271.8 386.2,269.9 C391.8,268.0 397.6,265.6 403.1,263.9 C408.6,262.2 413.9,259.2 419.3,259.5 C424.7,259.8 430.1,262.2 435.7,265.9 C441.2,269.6 447.0,275.0 452.6,281.8 C458.2,288.6 464.0,298.2 469.6,306.8 C475.2,315.4 480.5,325.0 486.1,333.5 C491.7,342.0 498.8,351.1 503.3,357.7 C507.8,364.3 511.4,370.4 513.0,373.0" fill="none" stroke="#14caca" stroke-width="4.2" stroke-linejoin="round" stroke-linecap="round"/>
<path d="M118.2,352.8L122.1,359.4L114.3,359.4Z" fill="#fff" stroke="#14caca" stroke-width="0.9"/>
<path d="M135.0,298.9L138.9,305.5L131.1,305.5Z" fill="#fff" stroke="#14caca" stroke-width="0.9"/>
<path d="M151.7,261.2L155.6,267.8L147.8,267.8Z" fill="#fff" stroke="#14caca" stroke-width="0.9"/>
<path d="M168.5,250.9L172.4,257.5L164.6,257.5Z" fill="#fff" stroke="#14caca" stroke-width="0.9"/>
<path d="M185.2,256.5L189.1,263.1L181.3,263.1Z" fill="#fff" stroke="#14caca" stroke-width="0.9"/>
<path d="M201.9,268.7L205.8,275.3L198.0,275.3Z" fill="#fff" stroke="#14caca" stroke-width="0.9"/>
<path d="M218.7,285.7L222.6,292.3L214.8,292.3Z" fill="#fff" stroke="#14caca" stroke-width="0.9"/>
<path d="M235.4,306.3L239.3,312.9L231.5,312.9Z" fill="#fff" stroke="#14caca" stroke-width="0.9"/>
<path d="M252.2,319.6L256.1,326.2L248.3,326.2Z" fill="#fff" stroke="#14caca" stroke-width="0.9"/>
<path d="M268.9,320.6L272.8,327.2L265.0,327.2Z" fill="#fff" stroke="#14caca" stroke-width="0.9"/>
<path d="M285.6,314.2L289.5,320.8L281.7,320.8Z" fill="#fff" stroke="#14caca" stroke-width="0.9"/>
<path d="M302.4,311.4L306.3,318.0L298.5,318.0Z" fill="#fff" stroke="#14caca" stroke-width="0.9"/>
<path d="M319.1,303.7L323.0,310.3L315.2,310.3Z" fill="#fff" stroke="#14caca" stroke-width="0.9"/>
<path d="M335.9,290.8L339.8,297.4L332.0,297.4Z" fill="#fff" stroke="#14caca" stroke-width="0.9"/>
<path d="M352.6,278.8L356.5,285.4L348.7,285.4Z" fill="#fff" stroke="#14caca" stroke-width="0.9"/>
<path d="M369.3,271.5L373.2,278.1L365.4,278.1Z" fill="#fff" stroke="#14caca" stroke-width="0.9"/>
<path d="M386.1,265.8L390.0,272.4L382.2,272.4Z" fill="#fff" stroke="#14caca" stroke-width="0.9"/>
<path d="M402.8,259.9L406.7,266.5L398.9,266.5Z" fill="#fff" stroke="#14caca" stroke-width="0.9"/>
<path d="M419.6,255.5L423.5,262.1L415.7,262.1Z" fill="#fff" stroke="#14caca" stroke-width="0.9"/>
<path d="M436.3,262.4L440.2,269.0L432.4,269.0Z" fill="#fff" stroke="#14caca" stroke-width="0.9"/>
<path d="M453.0,278.3L456.9,284.9L449.1,284.9Z" fill="#fff" stroke="#14caca" stroke-width="0.9"/>
<path d="M469.8,303.0L473.7,309.6L465.9,309.6Z" fill="#fff" stroke="#14caca" stroke-width="0.9"/>
<path d="M486.5,330.0L490.4,336.6L482.6,336.6Z" fill="#fff" stroke="#14caca" stroke-width="0.9"/>
<path d="M503.3,353.5L507.2,360.1L499.4,360.1Z" fill="#fff" stroke="#14caca" stroke-width="0.9"/>

<path d="M85.0,148.5 C85.5,147.6 86.8,145.2 87.8,143.0 C88.8,140.8 89.8,138.2 91.0,135.5 C92.2,132.8 93.5,129.8 95.3,126.5 C97.1,123.2 99.4,119.6 101.9,115.6 C104.4,111.6 107.7,106.2 110.3,102.6 C112.9,99.0 115.0,96.6 117.8,93.8 C120.6,91.0 124.7,87.5 127.2,85.5 C129.7,83.5 130.0,82.8 132.9,81.7 C135.8,80.6 141.2,79.5 144.5,78.8 C147.8,78.1 149.9,77.9 152.5,77.5 C155.1,77.1 157.3,76.4 160.0,76.4 C162.7,76.4 165.7,76.8 168.7,77.3 C171.7,77.8 175.4,78.5 178.2,79.1 C181.0,79.7 181.5,80.2 185.5,80.9 C189.5,81.6 198.0,83.5 202.2,83.3 C206.4,83.1 208.2,81.0 210.9,80.0 C213.6,79.0 216.1,78.2 218.5,77.6 C220.9,77.0 223.4,76.4 225.5,76.4 C227.6,76.4 229.1,76.7 230.9,77.6 C232.7,78.5 234.0,79.4 236.4,81.8 C238.8,84.2 242.8,89.0 245.5,91.8 C248.2,94.6 250.1,96.1 252.7,98.7 C255.3,101.3 258.2,104.8 260.9,107.3 C263.6,109.8 266.4,111.3 269.1,113.6 C271.8,115.9 274.4,118.9 277.3,120.9 C280.2,122.9 282.2,124.9 286.4,125.5 C290.6,126.1 297.2,125.3 302.7,124.5 C308.1,123.7 313.6,122.1 319.1,120.9 C324.6,119.8 329.9,119.1 335.5,117.6 C341.1,116.1 346.8,114.3 352.4,111.8 C358.0,109.3 363.4,106.0 369.1,102.7 C374.8,99.4 380.8,95.4 386.4,91.8 C392.0,88.2 397.2,84.1 402.7,80.9 C408.1,77.7 413.6,74.9 419.1,72.7 C424.6,70.5 430.0,69.0 435.6,67.8 C441.2,66.6 447.1,66.5 452.9,65.4 C458.6,64.3 464.5,63.3 470.1,61.2 C475.7,59.1 480.9,56.6 486.3,53.0 C491.7,49.4 496.9,44.5 502.5,39.6 C508.1,34.7 515.0,27.7 519.7,23.4 C524.5,19.1 529.1,15.6 531.0,14.0" fill="none" stroke="#784444" stroke-width="4.2" stroke-linejoin="round" stroke-linecap="round"/>
<path d="M101.5,120.6L105.4,113.8L97.6,113.8Z" fill="#fff" stroke="#784444" stroke-width="0.9"/>
<path d="M118.2,97.7L122.1,90.9L114.3,90.9Z" fill="#fff" stroke="#784444" stroke-width="0.9"/>
<path d="M135.0,85.5L138.9,78.7L131.1,78.7Z" fill="#fff" stroke="#784444" stroke-width="0.9"/>
<path d="M151.7,81.9L155.6,75.1L147.8,75.1Z" fill="#fff" stroke="#784444" stroke-width="0.9"/>
<path d="M168.5,81.6L172.4,74.8L164.6,74.8Z" fill="#fff" stroke="#784444" stroke-width="0.9"/>
<path d="M185.2,85.1L189.1,78.3L181.3,78.3Z" fill="#fff" stroke="#784444" stroke-width="0.9"/>
<path d="M201.9,87.6L205.8,80.8L198.0,80.8Z" fill="#fff" stroke="#784444" stroke-width="0.9"/>
<path d="M218.7,81.9L222.6,75.1L214.8,75.1Z" fill="#fff" stroke="#784444" stroke-width="0.9"/>
<path d="M235.4,85.4L239.3,78.6L231.5,78.6Z" fill="#fff" stroke="#784444" stroke-width="0.9"/>
<path d="M252.2,102.5L256.1,95.7L248.3,95.7Z" fill="#fff" stroke="#784444" stroke-width="0.9"/>
<path d="M268.9,117.7L272.8,110.9L265.0,110.9Z" fill="#fff" stroke="#784444" stroke-width="0.9"/>
<path d="M285.6,129.4L289.5,122.6L281.7,122.6Z" fill="#fff" stroke="#784444" stroke-width="0.9"/>
<path d="M302.4,128.8L306.3,122.0L298.5,122.0Z" fill="#fff" stroke="#784444" stroke-width="0.9"/>
<path d="M319.1,125.2L323.0,118.4L315.2,118.4Z" fill="#fff" stroke="#784444" stroke-width="0.9"/>
<path d="M335.9,121.8L339.8,115.0L332.0,115.0Z" fill="#fff" stroke="#784444" stroke-width="0.9"/>
<path d="M352.6,116.0L356.5,109.2L348.7,109.2Z" fill="#fff" stroke="#784444" stroke-width="0.9"/>
<path d="M369.3,106.8L373.2,100.0L365.4,100.0Z" fill="#fff" stroke="#784444" stroke-width="0.9"/>
<path d="M386.1,96.3L390.0,89.5L382.2,89.5Z" fill="#fff" stroke="#784444" stroke-width="0.9"/>
<path d="M402.8,85.1L406.7,78.3L398.9,78.3Z" fill="#fff" stroke="#784444" stroke-width="0.9"/>
<path d="M419.6,76.9L423.5,70.1L415.7,70.1Z" fill="#fff" stroke="#784444" stroke-width="0.9"/>
<path d="M436.3,72.0L440.2,65.2L432.4,65.2Z" fill="#fff" stroke="#784444" stroke-width="0.9"/>
<path d="M453.0,69.7L456.9,62.9L449.1,62.9Z" fill="#fff" stroke="#784444" stroke-width="0.9"/>
<path d="M469.8,65.6L473.7,58.8L465.9,58.8Z" fill="#fff" stroke="#784444" stroke-width="0.9"/>
<path d="M486.5,57.1L490.4,50.3L482.6,50.3Z" fill="#fff" stroke="#784444" stroke-width="0.9"/>
<path d="M503.3,43.2L507.2,36.4L499.4,36.4Z" fill="#fff" stroke="#784444" stroke-width="0.9"/>
<path d="M520.0,27.5L523.9,20.7L516.1,20.7Z" fill="#fff" stroke="#784444" stroke-width="0.9"/>

</g>
<rect x="85" y="14" width="446" height="359" fill="none" stroke="#000" stroke-width="3.7"/>
<path d="M85.0,373V379.5 M148.7,373V379.5 M212.4,373V379.5 M276.1,373V379.5 M339.9,373V379.5 M403.6,373V379.5 M467.3,373V379.5 M531.0,373V379.5 M97.7,373V376.8 M110.5,373V376.8 M123.2,373V376.8 M136.0,373V376.8 M161.5,373V376.8 M174.2,373V376.8 M186.9,373V376.8 M199.7,373V376.8 M225.2,373V376.8 M237.9,373V376.8 M250.7,373V376.8 M263.4,373V376.8 M288.9,373V376.8 M301.6,373V376.8 M314.4,373V376.8 M327.1,373V376.8 M352.6,373V376.8 M365.3,373V376.8 M378.1,373V376.8 M390.8,373V376.8 M416.3,373V376.8 M429.1,373V376.8 M441.8,373V376.8 M454.5,373V376.8 M480.0,373V376.8 M492.8,373V376.8 M505.5,373V376.8 M518.3,373V376.8 M78,14.0H85 M78,73.8H85 M78,133.7H85 M78,193.5H85 M78,253.3H85 M78,313.2H85 M78,373.0H85 M81.5,43.9H85 M81.5,103.8H85 M81.5,163.6H85 M81.5,223.4H85 M81.5,283.2H85 M81.5,343.1H85" stroke="#000" stroke-width="3.6"/>
<text transform="translate(85.0,403.8) scale(1,1.05)" font-family="Liberation Serif, serif" font-weight="bold" font-size="24" text-anchor="middle">4.0</text>
<text transform="translate(148.7,403.8) scale(1,1.05)" font-family="Liberation Serif, serif" font-weight="bold" font-size="24" text-anchor="middle">4.5</text>
<text transform="translate(212.4,403.8) scale(1,1.05)" font-family="Liberation Serif, serif" font-weight="bold" font-size="24" text-anchor="middle">5.0</text>
<text transform="translate(276.1,403.8) scale(1,1.05)" font-family="Liberation Serif, serif" font-weight="bold" font-size="24" text-anchor="middle">5.5</text>
<text transform="translate(339.9,403.8) scale(1,1.05)" font-family="Liberation Serif, serif" font-weight="bold" font-size="24" text-anchor="middle">6.0</text>
<text transform="translate(403.6,403.8) scale(1,1.05)" font-family="Liberation Serif, serif" font-weight="bold" font-size="24" text-anchor="middle">6.5</text>
<text transform="translate(467.3,403.8) scale(1,1.05)" font-family="Liberation Serif, serif" font-weight="bold" font-size="24" text-anchor="middle">7.0</text>
<text transform="translate(531.0,403.8) scale(1,1.05)" font-family="Liberation Serif, serif" font-weight="bold" font-size="24" text-anchor="middle">7.5</text>
<text transform="translate(72.8,21.9) scale(1,1.05)" font-family="Liberation Serif, serif" font-weight="bold" font-size="24" text-anchor="end">2</text>
<text transform="translate(72.8,81.7) scale(1,1.05)" font-family="Liberation Serif, serif" font-weight="bold" font-size="24" text-anchor="end">0</text>
<text transform="translate(46.63,141.6) scale(1,1.05)" font-family="Liberation Serif, serif" font-weight="bold" font-size="24"><tspan font-size="27.8" dy="1.26">−</tspan><tspan dx="-1.67" dy="-1.26">2</tspan></text>
<text transform="translate(46.63,201.4) scale(1,1.05)" font-family="Liberation Serif, serif" font-weight="bold" font-size="24"><tspan font-size="27.8" dy="1.26">−</tspan><tspan dx="-1.67" dy="-1.26">4</tspan></text>
<text transform="translate(46.63,261.2) scale(1,1.05)" font-family="Liberation Serif, serif" font-weight="bold" font-size="24"><tspan font-size="27.8" dy="1.26">−</tspan><tspan dx="-1.67" dy="-1.26">6</tspan></text>
<text transform="translate(46.63,321.1) scale(1,1.05)" font-family="Liberation Serif, serif" font-weight="bold" font-size="24"><tspan font-size="27.8" dy="1.26">−</tspan><tspan dx="-1.67" dy="-1.26">8</tspan></text>
<text transform="translate(34.63,380.9) scale(1,1.05)" font-family="Liberation Serif, serif" font-weight="bold" font-size="24"><tspan font-size="27.8" dy="1.26">−</tspan><tspan dx="-1.67" dy="-1.26">10</tspan></text>
<text x="310" y="441.4" font-family="Liberation Serif, serif" font-weight="bold" font-size="24" text-anchor="middle">Frequecny (GHz)</text>
<text transform="translate(27.3,194) rotate(-90) scale(0.988,1)" font-family="Liberation Serif, serif" font-weight="bold" font-size="24" text-anchor="middle">Mean Effective Gain (dB)</text>
<line x1="94" y1="143.8" x2="137" y2="143.8" stroke="#545454" stroke-width="4.2" stroke-linecap="round"/>
<rect x="112.2" y="141.0" width="5.6" height="5.6" fill="#545454"/>
<text x="142.3" y="150.9" font-family="Liberation Serif, serif" font-weight="bold" font-size="18.5">MEG 1 Sim</text>
<line x1="94" y1="167.4" x2="137" y2="167.4" stroke="#f03a3a" stroke-width="4.2" stroke-linecap="round"/>
<circle cx="115.0" cy="167.4" r="3.4" fill="#f03a3a"/>
<text x="142.3" y="174.5" font-family="Liberation Serif, serif" font-weight="bold" font-size="18.5">MEG 2 Sim</text>
<line x1="94" y1="191.0" x2="137" y2="191.0" stroke="#1f5fe6" stroke-width="4.2" stroke-linecap="round"/>
<path d="M115.0,187.0L118.8,193.6L111.2,193.6Z" fill="#1f5fe6"/>
<text x="142.3" y="198.1" font-family="Liberation Serif, serif" font-weight="bold" font-size="18.5">MEG 3 Sim</text>
<line x1="94" y1="214.7" x2="137" y2="214.7" stroke="#2aa862" stroke-width="4.2" stroke-linecap="round"/>
<path d="M115.0,218.7L118.8,212.1L111.2,212.1Z" fill="#2aa862"/>
<text x="142.3" y="221.8" font-family="Liberation Serif, serif" font-weight="bold" font-size="18.5">MEG 1/MEG 2 Sim</text>
<line x1="309" y1="143.8" x2="352.5" y2="143.8" stroke="#aa5ee6" stroke-width="4.2" stroke-linecap="round"/>
<rect x="327.1" y="140.9" width="5.8" height="5.8" fill="#fff" stroke="#aa5ee6" stroke-width="0.9"/>
<text x="357" y="150.9" font-family="Liberation Serif, serif" font-weight="bold" font-size="18.5">MEG 1 Mes</text>
<line x1="309" y1="167.4" x2="352.5" y2="167.4" stroke="#d39f12" stroke-width="4.2" stroke-linecap="round"/>
<circle cx="330.0" cy="167.4" r="3.1" fill="#fff" stroke="#d39f12" stroke-width="0.9"/>
<text x="357" y="174.5" font-family="Liberation Serif, serif" font-weight="bold" font-size="18.5">MEG 2 Mes</text>
<line x1="309" y1="191.0" x2="352.5" y2="191.0" stroke="#14caca" stroke-width="4.2" stroke-linecap="round"/>
<path d="M330.0,186.9L333.9,193.5L326.1,193.5Z" fill="#fff" stroke="#14caca" stroke-width="0.9"/>
<text x="357" y="198.1" font-family="Liberation Serif, serif" font-weight="bold" font-size="18.5">MEG 3 Mes</text>
<line x1="309" y1="214.7" x2="352.5" y2="214.7" stroke="#784444" stroke-width="4.2" stroke-linecap="round"/>
<path d="M330.0,219.0L333.9,212.2L326.1,212.2Z" fill="#fff" stroke="#784444" stroke-width="0.9"/>
<text x="357" y="221.8" font-family="Liberation Serif, serif" font-weight="bold" font-size="18.5">MEG 1/MEG 2 Mes</text>
</svg>
</body></html>
